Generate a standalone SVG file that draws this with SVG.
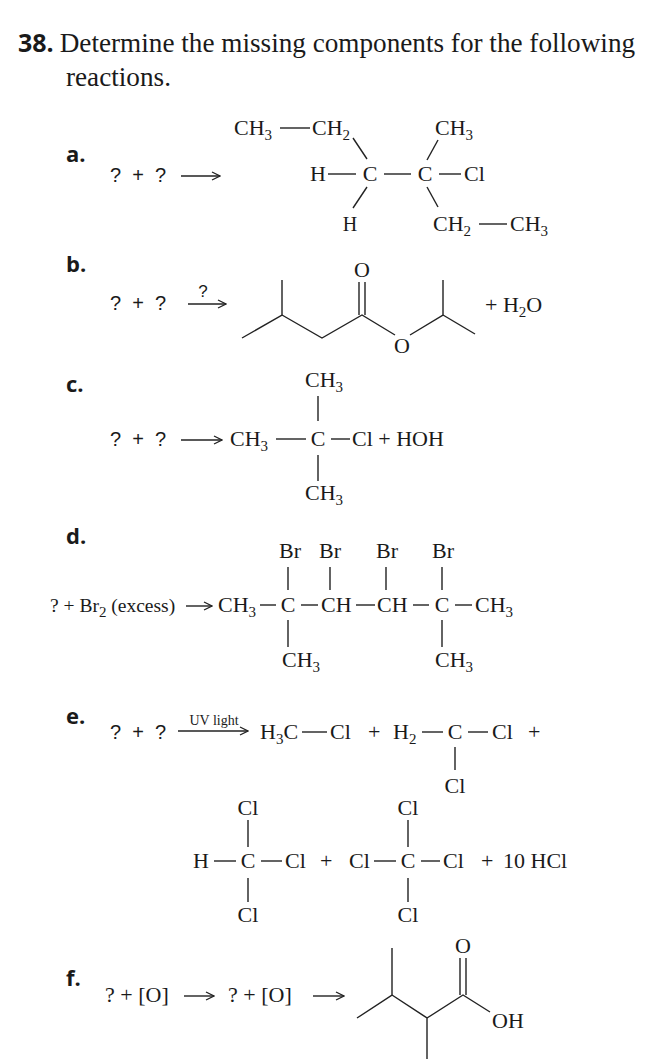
<svg xmlns="http://www.w3.org/2000/svg" width="655" height="1059" viewBox="0 0 655 1059">
<defs>
<marker id="ah" viewBox="0 0 10 10" refX="9" refY="5" markerWidth="10" markerHeight="10" markerUnits="userSpaceOnUse" orient="auto"><path d="M1,1 L9,5 L1,9" fill="none" stroke="#222" stroke-width="1.3"/></marker>
</defs>
<style>
text{font-family:"Liberation Serif","Times New Roman",serif;font-size:22px;fill:#1a1a1a;white-space:pre}
.t{font-size:27.2px}
.n{font-family:"Open Sans","Liberation Sans",sans-serif;font-weight:bold;font-size:25px}
.l{font-family:"Open Sans","Liberation Sans",sans-serif;font-weight:bold;font-size:22px}
.q{font-family:"Liberation Sans",sans-serif;font-size:20px}
.s{font-size:15px}
.sm{font-size:14px}
line,polyline{stroke:#222;stroke-width:1.4;fill:none}
.ar{marker-end:url(#ah)}
</style>
<rect width="655" height="1059" fill="#fff"/>
<text x="18" y="52"><tspan class="n">38.</tspan><tspan class="t" dx="6">Determine the missing components for the following</tspan></text>
<text x="66" y="86" class="t">reactions.</text>

<!-- a -->
<text x="66" y="162" class="l">a.</text>
<text x="110" y="182" class="q">?  +  ?</text>
<line class="ar" x1="181" y1="176" x2="220" y2="176"/>
<text x="234" y="135">CH<tspan class="s" dy="5">3</tspan></text>
<line x1="280" y1="128" x2="310" y2="128"/>
<text x="312" y="135">CH<tspan class="s" dy="5">2</tspan></text>
<text x="435" y="135">CH<tspan class="s" dy="5">3</tspan></text>
<text x="310" y="181">H</text>
<line x1="328" y1="174" x2="356" y2="174"/>
<text x="370" y="181" text-anchor="middle">C</text>
<line x1="384" y1="174" x2="411" y2="174"/>
<text x="425" y="181" text-anchor="middle">C</text>
<line x1="439" y1="174" x2="461" y2="174"/>
<text x="464" y="181">Cl</text>
<text x="350" y="231" text-anchor="middle" style="font-size:20px">H</text>
<text x="433" y="231">CH<tspan class="s" dy="5">2</tspan></text>
<line x1="479" y1="224" x2="507" y2="224"/>
<text x="510" y="231">CH<tspan class="s" dy="5">3</tspan></text>
<line x1="353" y1="138" x2="367" y2="159"/>
<line x1="367" y1="187" x2="353" y2="208"/>
<line x1="438" y1="140" x2="427" y2="160"/>
<line x1="427" y1="187" x2="438" y2="207"/>

<!-- b -->
<text x="66" y="272" class="l">b.</text>
<text x="110" y="310" class="q">?  +  ?</text>
<text x="203" y="297" class="q" text-anchor="middle" style="font-size:17px">?</text>
<line class="ar" x1="188" y1="304" x2="226" y2="304"/>
<polyline points="242,338 282,315 282,280"/>
<polyline points="282,315 322,338 362,315 395,335"/>
<line x1="359" y1="315" x2="359" y2="282"/>
<line x1="365" y1="315" x2="365" y2="282"/>
<text x="362" y="277" text-anchor="middle">O</text>
<text x="402" y="353" text-anchor="middle">O</text>
<polyline points="410,335 443,315 443,280"/>
<line x1="443" y1="315" x2="475" y2="334"/>
<text x="485" y="312">+ H<tspan class="s" dy="5">2</tspan><tspan dy="-5">O</tspan></text>

<!-- c -->
<text x="66" y="392" class="l">c.</text>
<text x="305" y="387">CH<tspan class="s" dy="5">3</tspan></text>
<line x1="318" y1="396" x2="318" y2="421"/>
<text x="110" y="446" class="q">?  +  ?</text>
<line class="ar" x1="181" y1="440" x2="222" y2="440"/>
<text x="230" y="446">CH<tspan class="s" dy="5">3</tspan></text>
<line x1="276" y1="439" x2="306" y2="439"/>
<text x="318" y="446" text-anchor="middle">C</text>
<line x1="331" y1="439" x2="350" y2="439"/>
<text x="352" y="446">Cl + HOH</text>
<line x1="318" y1="455" x2="318" y2="481"/>
<text x="305" y="500">CH<tspan class="s" dy="5">3</tspan></text>

<!-- d -->
<text x="66" y="544" class="l">d.</text>
<text x="290" y="558" text-anchor="middle">Br</text>
<text x="330" y="558" text-anchor="middle">Br</text>
<text x="387" y="558" text-anchor="middle">Br</text>
<text x="443" y="558" text-anchor="middle">Br</text>
<line x1="288" y1="567" x2="288" y2="590"/>
<line x1="330" y1="567" x2="330" y2="590"/>
<line x1="386" y1="567" x2="386" y2="590"/>
<line x1="442" y1="567" x2="442" y2="590"/>
<text x="50" y="612" style="font-size:19.5px">? + Br<tspan class="s" dy="5">2</tspan><tspan dy="-5"> (excess)</tspan></text>
<line class="ar" x1="186" y1="606" x2="212" y2="606"/>
<text x="218" y="612">CH<tspan class="s" dy="5">3</tspan></text>
<line x1="260" y1="605" x2="276" y2="605"/>
<text x="288" y="612" text-anchor="middle">C</text>
<line x1="301" y1="605" x2="318" y2="605"/>
<text x="321" y="612">CH</text>
<line x1="356" y1="605" x2="375" y2="605"/>
<text x="377" y="612">CH</text>
<line x1="413" y1="605" x2="429" y2="605"/>
<text x="442" y="612" text-anchor="middle">C</text>
<line x1="455" y1="605" x2="472" y2="605"/>
<text x="475" y="612">CH<tspan class="s" dy="5">3</tspan></text>
<line x1="288" y1="620" x2="288" y2="647"/>
<line x1="442" y1="620" x2="442" y2="647"/>
<text x="282" y="667">CH<tspan class="s" dy="5">3</tspan></text>
<text x="435" y="667">CH<tspan class="s" dy="5">3</tspan></text>

<!-- e -->
<text x="66" y="724" class="l">e.</text>
<text x="110" y="739" class="q">?  +  ?</text>
<text x="214" y="725" class="sm" text-anchor="middle">UV light</text>
<line class="ar" x1="178" y1="731" x2="248" y2="731"/>
<text x="260" y="739">H<tspan class="s" dy="5">3</tspan><tspan dy="-5">C</tspan></text>
<line x1="302" y1="732" x2="327" y2="732"/>
<text x="330" y="739">Cl</text>
<text x="368" y="739">+</text>
<text x="393" y="739">H<tspan class="s" dy="5">2</tspan></text>
<line x1="422" y1="732" x2="443" y2="732"/>
<text x="455" y="739" text-anchor="middle">C</text>
<line x1="468" y1="732" x2="488" y2="732"/>
<text x="492" y="739">Cl</text>
<text x="528" y="739">+</text>
<line x1="455" y1="747" x2="455" y2="770"/>
<text x="455" y="793" text-anchor="middle">Cl</text>

<text x="248" y="815" text-anchor="middle">Cl</text>
<line x1="248" y1="820" x2="248" y2="847"/>
<text x="193" y="868">H</text>
<line x1="214" y1="861" x2="236" y2="861"/>
<text x="248" y="868" text-anchor="middle">C</text>
<line x1="261" y1="861" x2="282" y2="861"/>
<text x="285" y="868">Cl</text>
<text x="320" y="868">+</text>
<text x="349" y="868">Cl</text>
<line x1="374" y1="861" x2="396" y2="861"/>
<text x="408" y="868" text-anchor="middle">C</text>
<line x1="421" y1="861" x2="440" y2="861"/>
<text x="443" y="868">Cl</text>
<text x="481" y="868">+</text>
<text x="503" y="868">10 HCl</text>
<line x1="248" y1="878" x2="248" y2="902"/>
<text x="248" y="922" text-anchor="middle">Cl</text>
<text x="408" y="815" text-anchor="middle">Cl</text>
<line x1="408" y1="820" x2="408" y2="847"/>
<line x1="408" y1="878" x2="408" y2="902"/>
<text x="408" y="922" text-anchor="middle">Cl</text>

<!-- f -->
<text x="66" y="986" class="l">f.</text>
<text x="105" y="1002">? + [O]</text>
<line class="ar" x1="184" y1="996" x2="214" y2="996"/>
<text x="228" y="1002">? + [O]</text>
<line class="ar" x1="313" y1="996" x2="344" y2="996"/>
<polyline points="357,1018 392,995 392,948"/>
<polyline points="392,995 427,1018 427,1059"/>
<polyline points="427,1018 463,995 490,1012"/>
<line x1="460" y1="995" x2="460" y2="958"/>
<line x1="466" y1="995" x2="466" y2="958"/>
<text x="463" y="953" text-anchor="middle">O</text>
<text x="492" y="1028">OH</text>
</svg>
